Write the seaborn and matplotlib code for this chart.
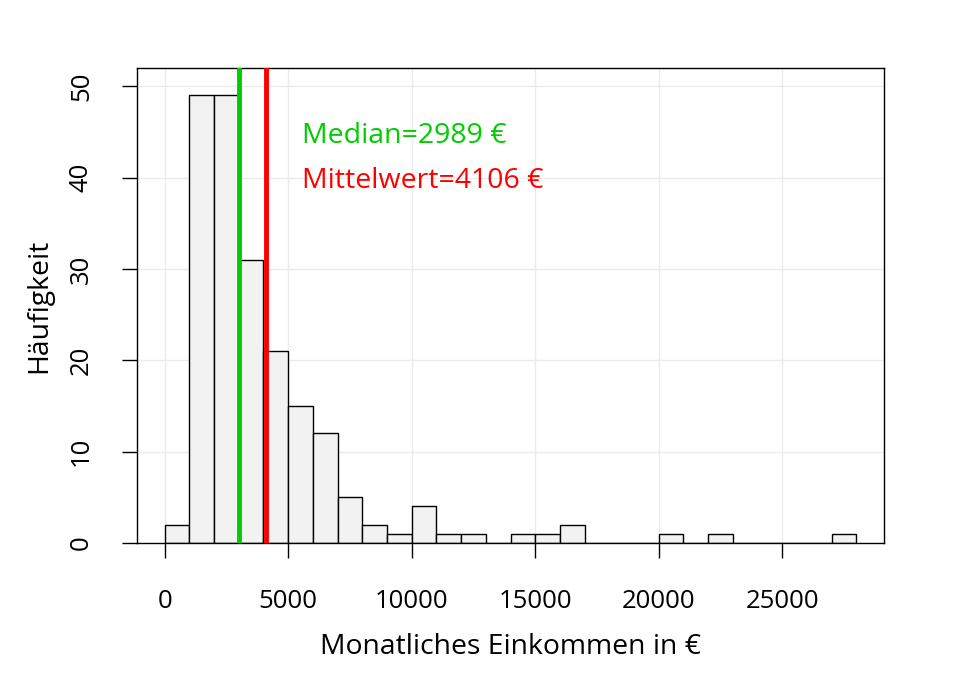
import numpy as np
import pandas as pd
import seaborn as sns
from matplotlib import pyplot as plt

# Einkommensklassen (linke Grenze, Breite 1000 €) und Häufigkeiten
klassen_start = [0, 1000, 2000, 3000, 4000, 5000, 6000, 7000, 8000, 9000,
                 10000, 11000, 12000, 13000, 14000, 15000, 16000, 17000, 18000, 19000,
                 20000, 21000, 22000, 23000, 24000, 25000, 26000, 27000]
haeufigkeit = [2, 49, 49, 31, 21, 15, 12, 5, 2, 1,
               4, 1, 1, 0, 1, 1, 2, 0, 0, 0,
               1, 0, 1, 0, 0, 0, 0, 1]
median = 2989
mittelwert = 4106
x_ticks = [0, 5000, 10000, 15000, 20000, 25000]
y_ticks = [0, 10, 20, 30, 40, 50]

sns.set_style('white')
plt.rcParams['font.family'] = ['Open Sans', 'DejaVu Sans']

df = pd.DataFrame({'einkommen': np.array(klassen_start) + 500, 'n': haeufigkeit})

fig = plt.figure(figsize=(9.54, 6.81), dpi=100)
ax = fig.add_axes([137 / 954, 1 - 543 / 681, (884 - 137) / 954, (543 - 68) / 681])

for xv in x_ticks:
    ax.axvline(xv, color='#EBEBEB', lw=1, zorder=0)
for yv in y_ticks[1:]:
    ax.axhline(yv, color='#EBEBEB', lw=1, zorder=0)

sns.histplot(data=df, x='einkommen', weights='n', binwidth=1000, binrange=(0, 28000),
             color='#F2F2F2', edgecolor='black', linewidth=1, alpha=1, ax=ax, zorder=2)

ax.axvline(median, color='#00CD00', lw=3.5, zorder=3)
ax.axvline(mittelwert, color='#FF0000', lw=3.5, zorder=3)
ax.text(5550, 44.55, f'Median={median} €', color='#00CD00', fontsize=20.5, va='center', ha='left')
ax.text(5550, 39.6, f'Mittelwert={mittelwert} €', color='#FF0000', fontsize=20.5, va='center', ha='left')

ax.set_xlim(-1120, 29120)
ax.set_ylim(0, 52)
ax.set_xticks(x_ticks)
ax.set_xticklabels([str(t) for t in x_ticks])
ax.set_yticks(y_ticks)
ax.set_yticklabels([str(t) for t in y_ticks], rotation=90, va='center')
ax.tick_params(direction='out', length=11, width=1, labelsize=18.5, colors='black',
               bottom=True, left=True)
ax.tick_params(axis='x', pad=22)
ax.tick_params(axis='y', pad=20)
for s in ax.spines.values():
    s.set_color('black')
    s.set_linewidth(1)
ax.set_xlabel('Monatliches Einkommen in €', fontsize=20.4, labelpad=14, color='black')
ax.set_ylabel('Häufigkeit', fontsize=20.4, labelpad=11, color='black')

fig.savefig('out.png', dpi=100)
